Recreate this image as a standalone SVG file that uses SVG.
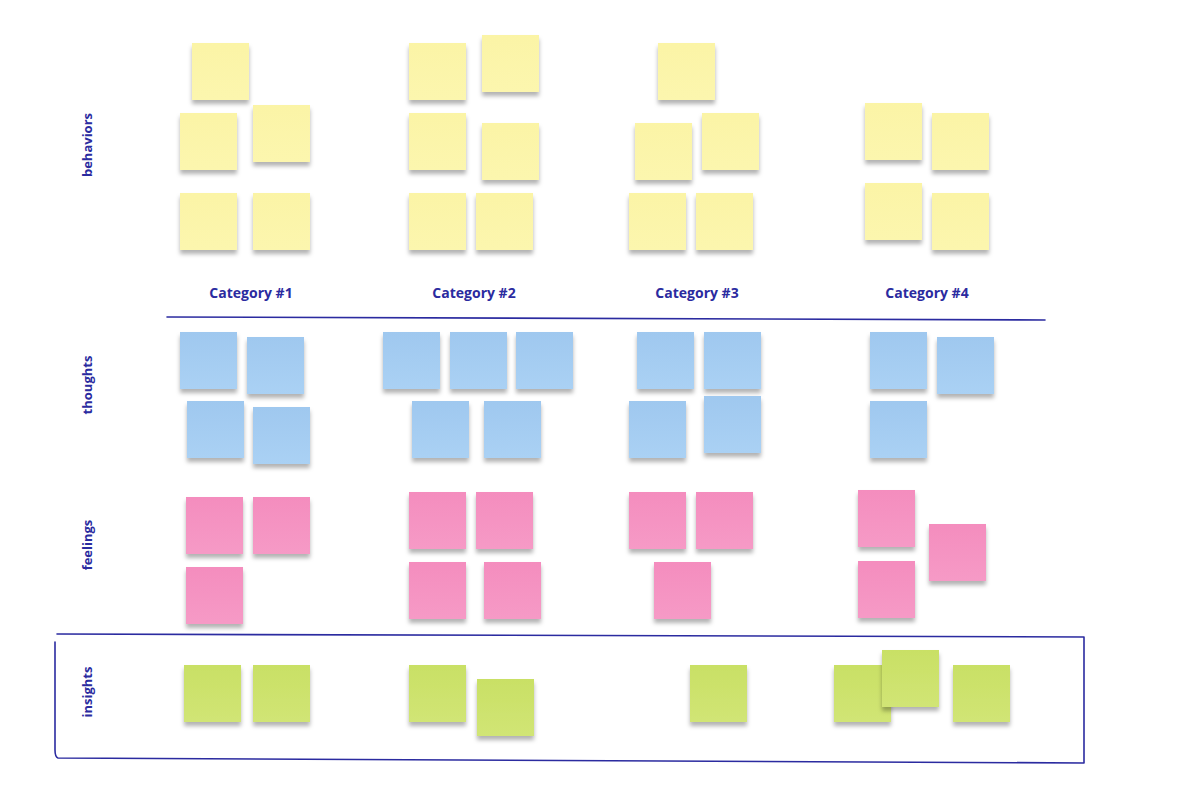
<svg xmlns="http://www.w3.org/2000/svg" width="1200" height="805" viewBox="0 0 1200 805">
<defs>
<filter id="sh" x="-20%" y="-20%" width="140%" height="150%">
<feDropShadow dx="0" dy="4" stdDeviation="2" flood-color="#000" flood-opacity="0.3"/>
</filter>
<linearGradient id="gy" x1="0" y1="0" x2="0" y2="1"><stop offset="0" stop-color="#fbf4a6"/><stop offset="1" stop-color="#fcf6ae"/></linearGradient>
<linearGradient id="gb" x1="0" y1="0" x2="0" y2="1"><stop offset="0" stop-color="#9fc8ef"/><stop offset="1" stop-color="#aad1f4"/></linearGradient>
<linearGradient id="gp" x1="0" y1="0" x2="0" y2="1"><stop offset="0" stop-color="#f48dbe"/><stop offset="1" stop-color="#f69ac6"/></linearGradient>
<linearGradient id="gg" x1="0" y1="0" x2="0" y2="1"><stop offset="0" stop-color="#c9e065"/><stop offset="1" stop-color="#d1e575"/></linearGradient>
</defs>
<style>
.n{width:57px;height:57px;filter:url(#sh)}
.y{fill:url(#gy)}
.b{fill:url(#gb)}
.p{fill:url(#gp)}
.g{fill:url(#gg)}
.row{font-family:"Open Sans","Noto Sans",sans-serif;font-weight:bold;font-size:13px;fill:#2b2ba0}
.cat{font-family:"Open Sans","Noto Sans",sans-serif;font-weight:bold;font-size:14px;fill:#2b2ba0;text-anchor:middle}
.ln{fill:none;stroke:#2b2ba0;stroke-width:1.6;stroke-linecap:round;stroke-linejoin:round}
</style>
<rect width="1200" height="805" fill="#fff"/>

<g id="labels">
<text class="row" transform="translate(92,145) rotate(-90)" text-anchor="middle">behaviors</text>
<text class="row" transform="translate(92,385) rotate(-90)" text-anchor="middle">thoughts</text>
<text class="row" transform="translate(92,545) rotate(-90)" text-anchor="middle">feelings</text>
<text class="row" transform="translate(92,692) rotate(-90)" text-anchor="middle">insights</text>
<text class="cat" x="251" y="298">Category #1</text>
<text class="cat" x="474" y="298">Category #2</text>
<text class="cat" x="697" y="298">Category #3</text>
<text class="cat" x="927" y="298">Category #4</text>
</g>

<g id="connectors">
<path class="ln" d="M167,317 L1045,320"/>
<path class="ln" d="M57,634 L1084,637 L1084,763 L58,758 Q55,757 55,750 L55,642"/>
</g>

<g id="behaviors">
<rect id="b1a" class="n y" x="192" y="43"/>
<rect id="b1b" class="n y" x="180" y="113"/>
<rect id="b1c" class="n y" x="253" y="105"/>
<rect id="b1d" class="n y" x="180" y="193"/>
<rect id="b1e" class="n y" x="253" y="193"/>
<rect id="b2a" class="n y" x="409" y="43"/>
<rect id="b2b" class="n y" x="482" y="35"/>
<rect id="b2c" class="n y" x="409" y="113"/>
<rect id="b2d" class="n y" x="482" y="123"/>
<rect id="b2e" class="n y" x="409" y="193"/>
<rect id="b2f" class="n y" x="476" y="193"/>
<rect id="b3a" class="n y" x="658" y="43"/>
<rect id="b3b" class="n y" x="635" y="123"/>
<rect id="b3c" class="n y" x="702" y="113"/>
<rect id="b3d" class="n y" x="629" y="193"/>
<rect id="b3e" class="n y" x="696" y="193"/>
<rect id="b4a" class="n y" x="865" y="103"/>
<rect id="b4b" class="n y" x="932" y="113"/>
<rect id="b4c" class="n y" x="865" y="183"/>
<rect id="b4d" class="n y" x="932" y="193"/>
</g>

<g id="thoughts">
<rect id="t1a" class="n b" x="180" y="332"/>
<rect id="t1b" class="n b" x="247" y="337"/>
<rect id="t1c" class="n b" x="187" y="401"/>
<rect id="t1d" class="n b" x="253" y="407"/>
<rect id="t2a" class="n b" x="383" y="332"/>
<rect id="t2b" class="n b" x="450" y="332"/>
<rect id="t2c" class="n b" x="516" y="332"/>
<rect id="t2d" class="n b" x="412" y="401"/>
<rect id="t2e" class="n b" x="484" y="401"/>
<rect id="t3a" class="n b" x="637" y="332"/>
<rect id="t3b" class="n b" x="704" y="332"/>
<rect id="t3c" class="n b" x="629" y="401"/>
<rect id="t3d" class="n b" x="704" y="396"/>
<rect id="t4a" class="n b" x="870" y="332"/>
<rect id="t4b" class="n b" x="937" y="337"/>
<rect id="t4c" class="n b" x="870" y="401"/>
</g>

<g id="feelings">
<rect id="f1a" class="n p" x="186" y="497"/>
<rect id="f1b" class="n p" x="253" y="497"/>
<rect id="f1c" class="n p" x="186" y="567"/>
<rect id="f2a" class="n p" x="409" y="492"/>
<rect id="f2b" class="n p" x="476" y="492"/>
<rect id="f2c" class="n p" x="409" y="562"/>
<rect id="f2d" class="n p" x="484" y="562"/>
<rect id="f3a" class="n p" x="629" y="492"/>
<rect id="f3b" class="n p" x="696" y="492"/>
<rect id="f3c" class="n p" x="654" y="562"/>
<rect id="f4a" class="n p" x="858" y="490"/>
<rect id="f4b" class="n p" x="929" y="524"/>
<rect id="f4c" class="n p" x="858" y="561"/>
</g>

<g id="insights">
<rect id="i1a" class="n g" x="184" y="665"/>
<rect id="i1b" class="n g" x="253" y="665"/>
<rect id="i2a" class="n g" x="409" y="665"/>
<rect id="i2b" class="n g" x="477" y="679"/>
<rect id="i3a" class="n g" x="690" y="665"/>
<rect id="i4a" class="n g" x="834" y="665"/>
<rect id="i4b" class="n g" x="882" y="650"/>
<rect id="i4c" class="n g" x="953" y="665"/>
</g>
</svg>
